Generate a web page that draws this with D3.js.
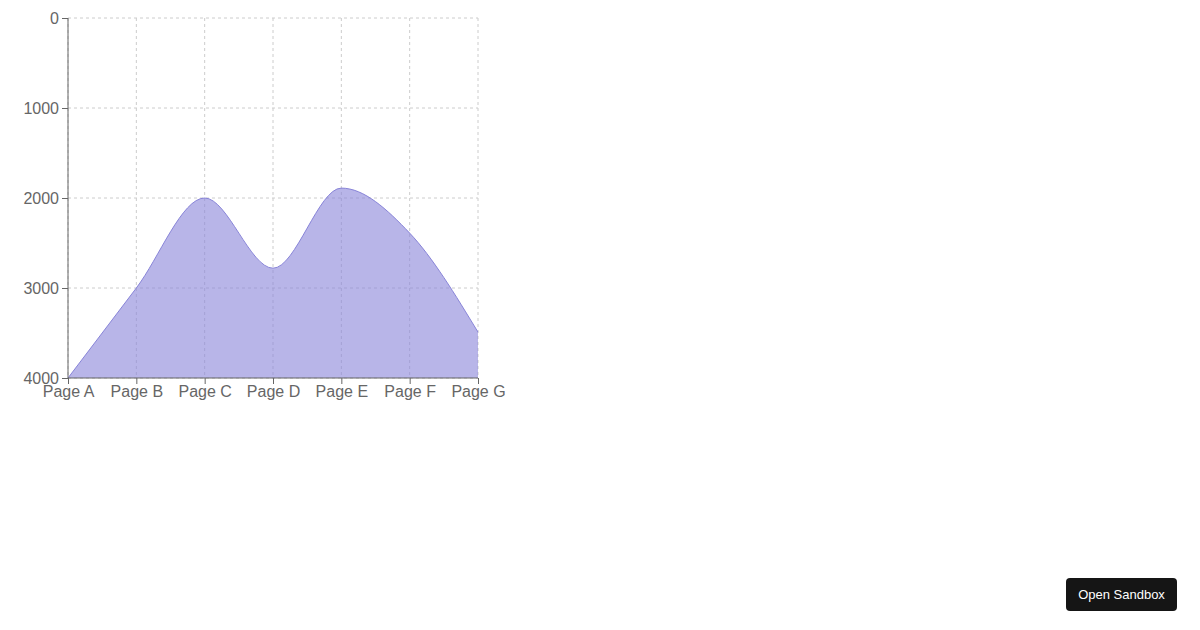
<!DOCTYPE html>
<html>
<head>
<meta charset="utf-8">
<script src="https://cdn.jsdelivr.net/npm/d3@7"></script>
<style>
  body { margin: 0; font-family: "Liberation Sans", Arial, sans-serif; background: #fff; }
  #chart { position: absolute; left: 0; top: 0; }
  .btn {
    position: absolute; left: 1066px; top: 578px; width: 111px; height: 33px;
    background: #151515; color: #fff; border-radius: 4px;
    font-size: 13px; line-height: 33px; text-align: center;
  }
</style>
</head>
<body>
<div id="chart"></div>
<div class="btn">Open Sandbox</div>
<script>
const pages = ["Page A", "Page B", "Page C", "Page D", "Page E", "Page F", "Page G"];
const uv = [4000, 3000, 2000, 2780, 1890, 2390, 3490];
const yTicks = [0, 1000, 2000, 3000, 4000];

let plotLeft = 68, plotTop = 18, plotRight = 478, plotBottom = 378;

let svg = d3.select("#chart")
    .append("svg")
    .attr("width", 1200)
    .attr("height", 630);

let xScale = d3.scalePoint()
    .domain(pages)
    .range([plotLeft, plotRight]);

// reversed axis: 0 at the top
let yScale = d3.scaleLinear()
    .domain([0, 4000])
    .range([plotTop, plotBottom]);

// grid
let grid = svg.append("g")
    .attr("stroke", "#ccc")
    .attr("stroke-dasharray", "3 3");
grid.selectAll(".h")
    .data(yTicks)
    .enter()
    .append("line")
    .attr("x1", plotLeft)
    .attr("x2", plotRight)
    .attr("y1", d => yScale(d))
    .attr("y2", d => yScale(d));
grid.selectAll(".v")
    .data(pages)
    .enter()
    .append("line")
    .attr("x1", d => xScale(d))
    .attr("x2", d => xScale(d))
    .attr("y1", plotTop)
    .attr("y2", plotBottom);

// area down to the bottom of the plot
let area = d3.area()
    .x((d, i) => xScale(pages[i]))
    .y0(yScale(4000))
    .y1(d => yScale(d))
    .curve(d3.curveMonotoneX);
let line = d3.line()
    .x((d, i) => xScale(pages[i]))
    .y(d => yScale(d))
    .curve(d3.curveMonotoneX);

svg.append("path")
    .datum(uv)
    .attr("d", area)
    .attr("fill", "#8884d8")
    .attr("fill-opacity", 0.6);
svg.append("path")
    .datum(uv)
    .attr("d", line)
    .attr("fill", "none")
    .attr("stroke", "#8884d8");

// axes
let xAxis = d3.axisBottom(xScale).tickSize(6).tickPadding(3);
let gx = svg.append("g")
    .attr("transform", `translate(0, ${plotBottom})`)
    .call(xAxis);

let yAxis = d3.axisLeft(yScale)
    .tickValues(yTicks)
    .tickFormat(d3.format("d"))
    .tickSize(6)
    .tickPadding(3);
let gy = svg.append("g")
    .attr("transform", `translate(${plotLeft}, 0)`)
    .call(yAxis);

[gx, gy].forEach(g => {
    g.selectAll("path.domain").attr("stroke", "#666");
    g.selectAll(".tick line").attr("stroke", "#666");
    g.selectAll(".tick text")
        .attr("fill", "#666")
        .style("font-size", "16px")
        .style("font-family", "Liberation Sans, Arial, sans-serif");
});
gx.select("path.domain").attr("d", `M${plotLeft},0H${plotRight}`);
gy.select("path.domain").attr("d", `M0,${plotTop}V${plotBottom}`);
gx.selectAll(".tick text").attr("dy", "0.6em");
</script>
</body>
</html>
